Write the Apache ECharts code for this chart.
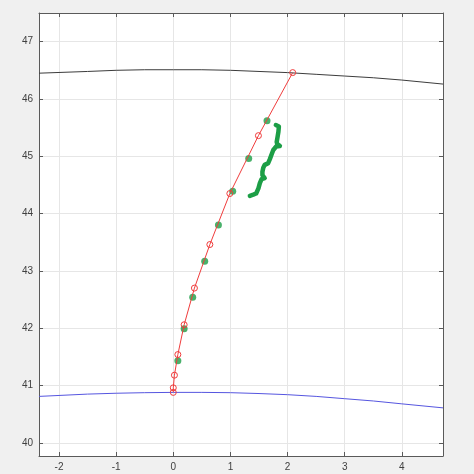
<!DOCTYPE html>
<html>
<head>
<meta charset="utf-8">
<script src="https://cdn.jsdelivr.net/npm/echarts@6/dist/echarts.min.js"></script>
<style>
  html, body { margin: 0; padding: 0; background: #f0f0f0; }
  #chart { width: 474px; height: 474px; }
</style>
</head>
<body>
<div id="chart"></div>
<script>
// upper boundary curve (black)
const upperX = [-2.35, -1.5, -1, -0.5, 0, 0.5, 1, 1.5, 2, 2.5, 3, 3.5, 4, 4.72];
const upperY = [46.45, 46.48, 46.5, 46.51, 46.51, 46.51, 46.5, 46.48, 46.46, 46.43, 46.4, 46.37, 46.33, 46.26];

// lower boundary curve (blue)
const lowerX = [-2.35, -1.5, -1, -0.5, 0, 0.5, 1, 1.5, 2, 2.5, 3, 3.5, 4, 4.72];
const lowerY = [40.81, 40.85, 40.865, 40.875, 40.88, 40.88, 40.875, 40.86, 40.84, 40.81, 40.77, 40.73, 40.68, 40.61];

// red path with open circles
const redX = [0, 0, 0.02, 0.08, 0.19, 0.37, 0.64, 0.99, 1.49, 2.09];
const redY = [40.88, 40.96, 41.18, 41.54, 42.06, 42.7, 43.46, 44.35, 45.36, 46.46];

// green filled points
const dotX = [0.08, 0.19, 0.34, 0.55, 0.79, 1.04, 1.32, 1.64];
const dotY = [41.43, 41.99, 42.54, 43.17, 43.8, 44.39, 44.96, 45.62];

// thick green trace
const traceX = [1.795, 1.848, 1.84, 1.825, 1.81, 1.82, 1.865, 1.8, 1.75, 1.72, 1.69, 1.66, 1.6, 1.575, 1.56, 1.56, 1.6, 1.545, 1.515, 1.49, 1.45, 1.4, 1.34];
const traceY = [45.546, 45.52, 45.43, 45.34, 45.25, 45.21, 45.18, 45.17, 45.11, 45.03, 44.95, 44.88, 44.85, 44.8, 44.73, 44.67, 44.62, 44.6, 44.53, 44.44, 44.35, 44.33, 44.31];

const pairs = (xs, ys) => xs.map((x, i) => [x, ys[i]]);

const boxColor = "#5a5a5a";
const labelColor = "#404040";
const gridColor = "#e6e6e6";

const xRange = { min: -2.35, max: 4.72 };
const yRange = { min: 39.77, max: 47.5 };

function makeAxis(position, range, showLabels, splitNumber) {
  return {
    type: "value",
    position,
    min: range.min,
    max: range.max,
    splitNumber,
    axisLine: { show: true, onZero: false, lineStyle: { color: boxColor, width: 1 } },
    axisTick: { show: true, inside: true, length: 4, lineStyle: { color: boxColor } },
    axisLabel: {
      show: showLabels,
      showMinLabel: false,
      showMaxLabel: false,
      color: labelColor,
      fontSize: 10,
      fontFamily: "Liberation Sans",
      margin: 6,
    },
    splitLine: { show: showLabels, lineStyle: { color: gridColor, width: 1 } },
  };
}

const chart = echarts.init(document.getElementById("chart"));

chart.setOption({
  animation: false,
  backgroundColor: "#f0f0f0",
  grid: {
    left: 39,
    top: 13,
    width: 404,
    height: 443,
    show: true,
    backgroundColor: "#ffffff",
    borderWidth: 0,
  },
  xAxis: [
    makeAxis("bottom", xRange, true, 7),
    makeAxis("top", xRange, false, 7),
  ],
  yAxis: [
    makeAxis("left", yRange, true, 8),
    makeAxis("right", yRange, false, 8),
  ],
  series: [
    {
      type: "line",
      data: pairs(upperX, upperY),
      showSymbol: false,
      lineStyle: { color: "#3c3c3c", width: 1 },
    },
    {
      type: "line",
      data: pairs(lowerX, lowerY),
      showSymbol: false,
      lineStyle: { color: "#5656e0", width: 1 },
    },
    {
      type: "line",
      data: pairs(redX, redY),
      symbol: "circle",
      symbolSize: 6,
      lineStyle: { color: "#f03c3c", width: 1 },
      itemStyle: { color: "rgba(255,255,255,0)", borderColor: "#f03c3c", borderWidth: 1 },
    },
    {
      type: "line",
      data: pairs(traceX, traceY),
      showSymbol: false,
      lineStyle: { color: "#1c9e46", width: 4.5, cap: "round", join: "round" },
    },
    {
      type: "scatter",
      data: pairs(dotX, dotY),
      symbolSize: 7,
      itemStyle: { color: "#1c9e46" },
    },
  ],
});
</script>
</body>
</html>
